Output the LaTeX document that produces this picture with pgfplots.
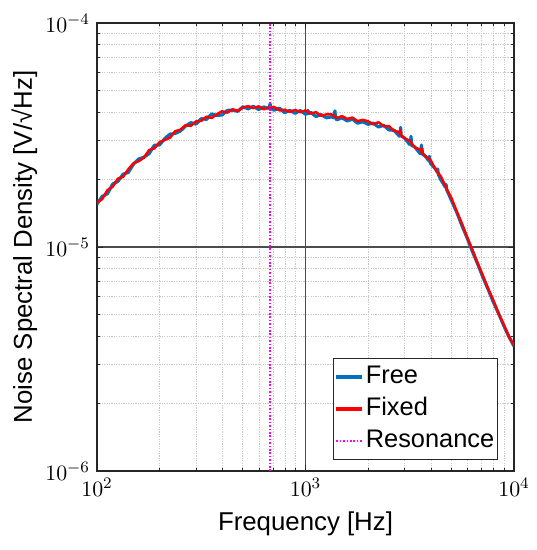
\documentclass[border=0pt]{standalone}
\usepackage{pgfplots}
\usepackage{pgfplotstable}
\pgfplotsset{compat=1.18}
\usepackage{fontspec}
\setmainfont{Liberation Sans}
\definecolor{mblue}{RGB}{0,114,189}
\definecolor{mmag}{RGB}{255,0,255}

\pgfplotstableread{
lf lv
2.000 -4.808
2.025 -4.774
2.050 -4.762
2.075 -4.719
2.100 -4.707
2.125 -4.675
2.150 -4.667
2.175 -4.630
2.200 -4.607
2.225 -4.599
2.250 -4.583
2.275 -4.546
2.300 -4.544
2.325 -4.516
2.350 -4.496
2.375 -4.493
2.400 -4.482
2.425 -4.460
2.450 -4.445
2.475 -4.451
2.500 -4.427
2.525 -4.430
2.550 -4.406
2.575 -4.413
2.600 -4.410
2.625 -4.390
2.650 -4.389
2.675 -4.394
2.700 -4.374
2.725 -4.383
2.750 -4.372
2.775 -4.386
2.800 -4.375
2.825 -4.381
2.830 -4.361
2.835 -4.383
2.850 -4.389
2.875 -4.380
2.900 -4.400
2.925 -4.390
2.950 -4.403
2.975 -4.391
3.000 -4.407
3.009 -4.404
3.012 -4.390
3.015 -4.404
3.025 -4.399
3.050 -4.417
3.075 -4.409
3.100 -4.423
3.125 -4.419
3.138 -4.423
3.141 -4.392
3.144 -4.423
3.150 -4.432
3.175 -4.423
3.200 -4.437
3.225 -4.429
3.250 -4.447
3.275 -4.441
3.300 -4.452
3.325 -4.447
3.350 -4.464
3.375 -4.457
3.400 -4.477
3.425 -4.479
3.450 -4.505
3.453 -4.501
3.456 -4.466
3.459 -4.504
3.475 -4.513
3.500 -4.543
3.503 -4.541
3.506 -4.506
3.509 -4.546
3.525 -4.554
3.550 -4.583
3.553 -4.580
3.556 -4.545
3.559 -4.584
3.575 -4.595
3.591 -4.614
3.594 -4.595
3.597 -4.620
3.600 -4.627
3.625 -4.653
3.631 -4.665
3.634 -4.652
3.637 -4.676
3.650 -4.701
3.671 -4.733
3.674 -4.720
3.677 -4.744
3.700 -4.792
3.725 -4.844
3.750 -4.904
3.775 -4.959
3.800 -5.019
3.825 -5.074
3.850 -5.133
3.875 -5.187
3.900 -5.244
3.925 -5.295
3.950 -5.349
3.975 -5.399
4.000 -5.443
}\freetab

\pgfplotstableread{
lf lv
2.000 -4.802
2.025 -4.786
2.050 -4.746
2.075 -4.731
2.100 -4.695
2.125 -4.687
2.150 -4.653
2.175 -4.626
2.200 -4.617
2.225 -4.601
2.250 -4.567
2.275 -4.560
2.300 -4.532
2.325 -4.522
2.350 -4.512
2.375 -4.483
2.400 -4.476
2.425 -4.456
2.450 -4.459
2.475 -4.439
2.500 -4.437
2.525 -4.418
2.550 -4.424
2.575 -4.407
2.600 -4.394
2.625 -4.400
2.650 -4.385
2.675 -4.392
2.700 -4.378
2.725 -4.371
2.750 -4.380
2.775 -4.372
2.800 -4.385
2.825 -4.377
2.850 -4.375
2.875 -4.390
2.900 -4.387
2.925 -4.397
2.950 -4.388
2.975 -4.398
3.000 -4.390
3.025 -4.404
3.050 -4.398
3.075 -4.414
3.100 -4.408
3.125 -4.408
3.150 -4.423
3.175 -4.416
3.200 -4.428
3.225 -4.422
3.250 -4.438
3.275 -4.432
3.300 -4.439
3.325 -4.452
3.350 -4.443
3.375 -4.460
3.400 -4.460
3.425 -4.482
3.450 -4.486
3.453 -4.498
3.456 -4.478
3.459 -4.502
3.475 -4.514
3.500 -4.526
3.525 -4.557
3.550 -4.564
3.557 -4.578
3.560 -4.560
3.563 -4.582
3.575 -4.594
3.600 -4.612
3.625 -4.656
3.650 -4.686
3.675 -4.736
3.700 -4.782
3.725 -4.841
3.750 -4.895
3.775 -4.956
3.800 -5.011
3.825 -5.071
3.850 -5.126
3.875 -5.184
3.900 -5.236
3.925 -5.294
3.950 -5.345
3.975 -5.399
4.000 -5.440
}\fixedtab

\begin{document}
\begin{tikzpicture}
\begin{axis}[
  name=ax,
  scale only axis,
  width=208.5pt, height=224pt,
  xmode=log, ymode=log,
  xmin=100, xmax=10000, ymin=1e-6, ymax=1e-4,
  xtick={100,1000,10000}, ytick={1e-6,1e-5,1e-4},
  tick align=inside,
  major tick length=3pt, minor tick length=1.6pt,
  every tick/.style={black!85, line width=0.5pt},
  axis line style={black!85, line width=0.6pt},
  grid=both,
  major grid style={black!70, line width=0.55pt, solid},
  minor grid style={black!22, line width=0.5pt, dash pattern=on 0.6pt off 0.6pt},
  ticklabel style={font=\fontsize{11}{13}\selectfont},
  xlabel={Frequency [Hz]},
  ylabel={Noise Spectral Density [V/√Hz]},
  every axis x label/.style={at={(axis description cs:0.5,-0.1317)}, anchor=base, font=\fontsize{12.9}{15}\selectfont},
  every axis y label/.style={at={(axis description cs:-0.1559,0.5)}, rotate=90, anchor=base, font=\fontsize{12.9}{15}\selectfont},
  legend style={at={(0.9616,0.0246)}, anchor=south east, draw=black!85, line width=0.5pt,
    font=\fontsize{12.7}{15}\selectfont, inner xsep=0.8pt, inner ysep=1.2pt,
    row sep=0pt, nodes={inner xsep=0.8pt, inner ysep=2pt, text height=9.2pt, text depth=2.8pt}},
  legend cell align=left,
  legend image code/.code={\draw[#1] (0pt,0pt) -- (13pt,0pt);},
]
\addplot[mblue, line width=1.6pt, line join=round, legend image post style={line width=1.8pt}] table[x expr=10^\thisrow{lf}, y expr=10^\thisrow{lv}] {\freetab};
\addlegendentry{Free}
\addplot[red, line width=1.25pt, line join=round, legend image post style={line width=1.8pt}] table[x expr=10^\thisrow{lf}, y expr=10^\thisrow{lv}] {\fixedtab};
\addlegendentry{Fixed}
\addplot[mmag, line width=1.4pt, dash pattern=on 0.8pt off 0.9pt, legend image post style={line width=1.1pt}] coordinates {(676,1e-6) (676,1e-4)};
\addlegendentry{Resonance}
\end{axis}
\pgfresetboundingbox
\path ([shift={(-48.5pt,-39.5pt)}]ax.south west) rectangle ([shift={(11pt,11.5pt)}]ax.north east);
\end{tikzpicture}
\end{document}
